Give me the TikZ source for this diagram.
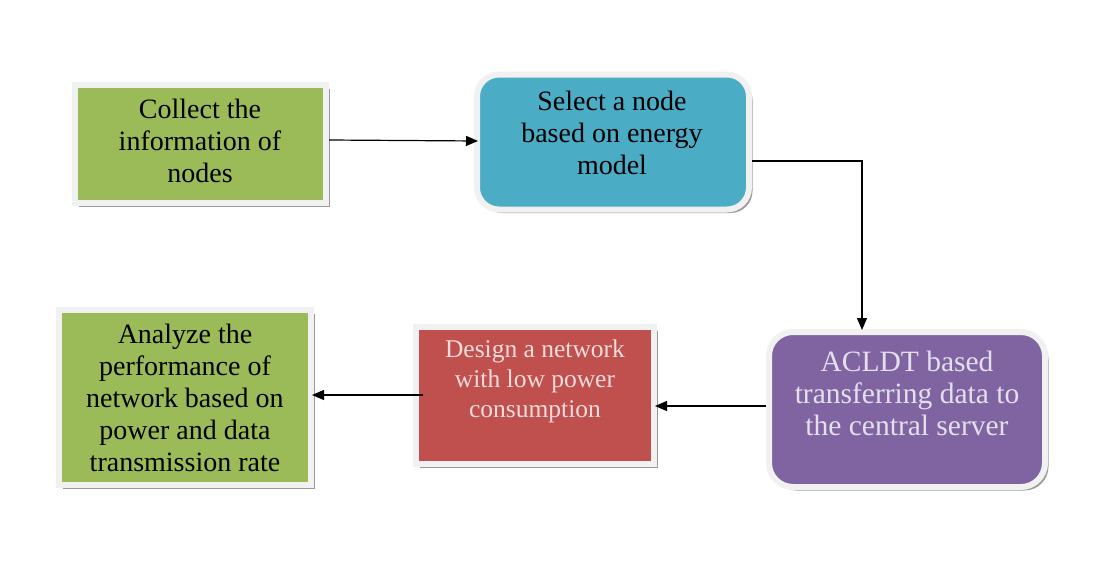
\documentclass[tikz,border=0pt]{standalone}
\usepackage{fontspec}
\setmainfont{Liberation Serif}
\newfontfamily\tnr{Liberation Serif}
\usetikzlibrary{shadows,arrows.meta,calc}
\definecolor{cgreen}{HTML}{9BBB59}
\definecolor{cblue}{HTML}{4BACC6}
\definecolor{cred}{HTML}{C0504D}
\definecolor{cpurple}{HTML}{8064A2}
\definecolor{cframe}{HTML}{F1F1F1}
\definecolor{cshadow}{HTML}{9A9A9A}
\definecolor{credtxt}{HTML}{F2DCDB}
\definecolor{cpurtxt}{HTML}{E5DFEC}
\tikzset{
  box/.style={draw=cframe, line width=6pt, inner sep=0pt,
    drop shadow={shadow xshift=3.5pt, shadow yshift=-3.5pt, fill=cshadow, opacity=1}},
  txt/.style={align=center, inner sep=0pt, font=\tnr\fontsize{28}{32}\selectfont},
  conn/.style={line width=1.2pt, -{Triangle[length=12pt,width=10pt]}},
}
\begin{document}
\begin{tikzpicture}[x=1pt,y=1pt]
\useasboundingbox[fill=white] (0,0) rectangle (1100,-560);
% boxes
\node[box, fill=cgreen, minimum width=251pt, minimum height=118pt] (b1) at (200.5,-144) {};
\node[box, fill=cblue, rounded corners=22pt, minimum width=272pt, minimum height=135pt] (b2) at (613,-142) {};
\node[box, fill=cgreen, minimum width=252pt, minimum height=175pt] (b3) at (185,-397.5) {};
\node[box, fill=cred, minimum width=238pt, minimum height=137pt] (b4) at (535,-395.5) {};
\node[box, fill=cpurple, rounded corners=24pt, minimum width=276pt, minimum height=155pt] (b5) at (907,-409.5) {};
% texts
\node[txt] (t1) at (200,-141) {Collect the\\information of\\nodes};
\node[txt] (t2) at (612,-133) {Select a node\\based on energy\\model};
\node[txt] (t3) at (185,-398) {Analyze the\\performance of\\network based on\\power and data\\transmission rate};
\node[txt, text=credtxt, font=\tnr\fontsize{25.5}{30}\selectfont] (t4) at (535,-381) {Design a network\\with low power\\consumption};
\node[txt, text=cpurtxt, font=\tnr\fontsize{29.5}{32}\selectfont] (t5) at (907,-393) {ACLDT based\\transferring data to\\the central server};
% connectors
\coordinate (c1) at (862,-161);
\coordinate (y3) at (0,-406);
\coordinate (y4) at (0,-395);
\draw[conn] (b1.east |- 0,-140) -- ($(b2.west |- 0,-141)+(4,0)$);
\draw[conn] (b2.east |- c1) -- (c1) -- ($(c1 |- b5.north)+(0,-1)$);
\draw[conn] (b5.west |- y3) -- ($(b4.east |- y3)+(-2,0)$);
\draw[conn] ($(b4.west |- y4)+(10,0)$) -- ($(b3.east |- y4)+(-2,0)$);
\end{tikzpicture}
\end{document}
